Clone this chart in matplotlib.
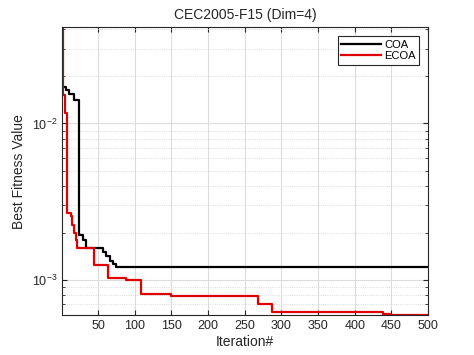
import numpy as np
import matplotlib
matplotlib.use("Agg")
import matplotlib.pyplot as plt
from matplotlib.ticker import LogLocator

# change points of the convergence curves (iteration, best fitness)
coa_iter = [1, 6, 11, 17, 24, 29, 34, 57, 61, 66, 70, 74, 500]
coa_best = [0.0171, 0.0163, 0.0155, 0.0141, 1.94e-3, 1.81e-3, 1.60e-3,
            1.52e-3, 1.42e-3, 1.33e-3, 1.27e-3, 1.22e-3, 1.22e-3]

ecoa_iter = [1, 2, 5, 8, 13, 15, 17, 20, 22, 45, 63, 88, 108, 150, 268, 287, 439, 450, 500]
ecoa_best = [0.041, 0.0152, 0.0116, 2.67e-3, 2.55e-3, 2.25e-3, 2.0e-3, 1.8e-3, 1.6e-3,
             1.25e-3, 1.04e-3, 1.0e-3, 8.2e-4, 7.9e-4, 7.1e-4, 6.3e-4, 6.1e-4, 6.0e-4, 6.0e-4]

x_ticks = [50, 100, 150, 200, 250, 300, 350, 400, 450, 500]

plt.rcParams["font.family"] = ["Liberation Sans", "DejaVu Sans"]

fig = plt.figure(figsize=(4.74, 3.55), dpi=100)
ax = fig.add_axes([0.131, 0.1127, 0.772, 0.8103])

ax.plot(coa_iter, coa_best, drawstyle="steps-post", color="black", linewidth=1.6, label="COA")
ax.plot(ecoa_iter, ecoa_best, drawstyle="steps-post", color="#e00000", linewidth=1.6, label="ECOA")

ax.set_yscale("log")
ax.set_xlim(1, 500)
ax.set_ylim(6.0e-4, 0.041)
ax.set_xticks(x_ticks)
ax.yaxis.set_minor_locator(LogLocator(base=10, subs=np.arange(2, 10)))

ax.grid(True, which="major", color="#dcdcdc", linewidth=0.8, linestyle="-")
ax.grid(True, which="minor", axis="y", color="#d0d0d0", linewidth=0.6, linestyle=":")
ax.set_axisbelow(True)

ax.tick_params(which="both", direction="in", top=True, right=True, labelsize=9, colors="#262626")
ax.tick_params(which="major", length=3.5)
ax.tick_params(which="minor", length=2)
for sp in ax.spines.values():
    sp.set_color("#262626")
    sp.set_linewidth(0.8)

ax.set_xlabel("Iteration#", fontsize=10, color="#262626", labelpad=2)
ax.set_ylabel("Best Fitness Value", fontsize=10, color="#262626", labelpad=4)
ax.set_title("CEC2005-F15 (Dim=4)", fontsize=10, color="#262626", pad=6)

leg = ax.legend(loc="upper right", fontsize=8, fancybox=False, framealpha=1,
                edgecolor="#262626", handlelength=3.6, borderpad=0.3,
                labelspacing=0.15, handletextpad=0.3, borderaxespad=0.8)
leg.get_frame().set_linewidth(0.8)

fig.savefig("out.png", dpi=100)
